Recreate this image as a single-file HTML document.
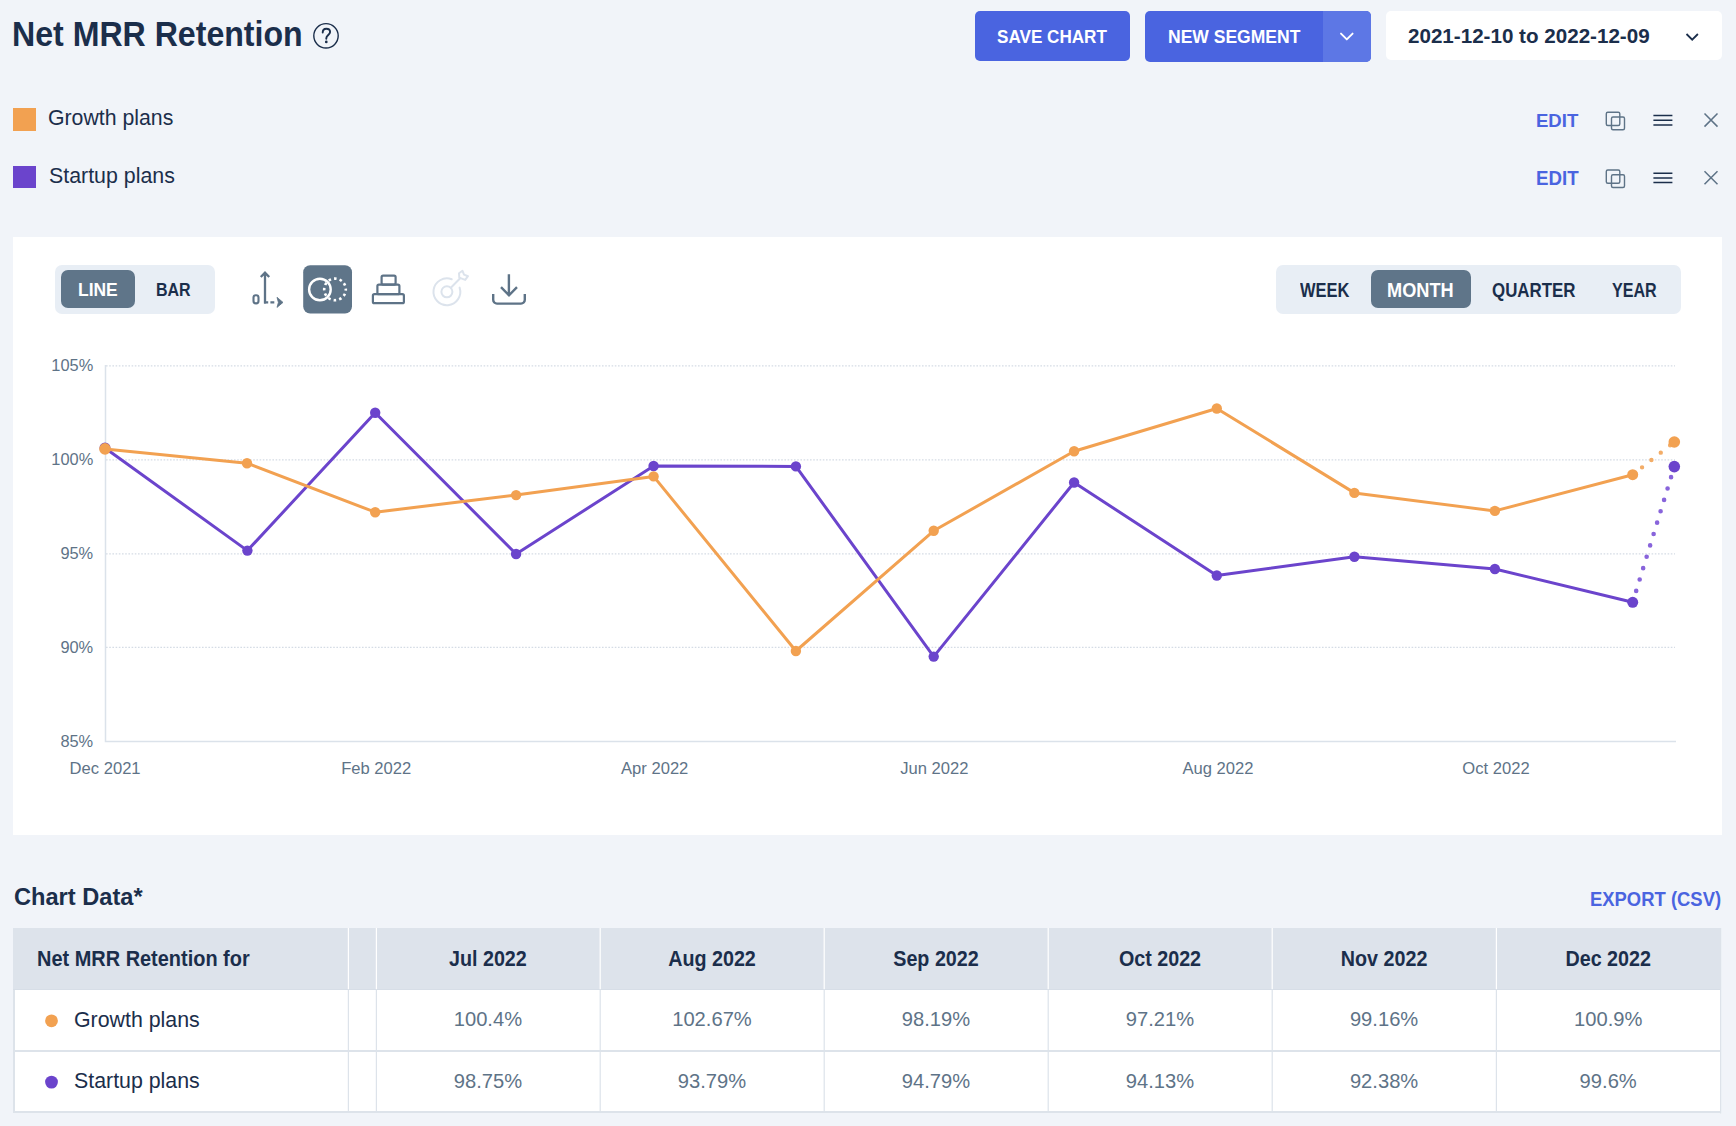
<!DOCTYPE html>
<html><head><meta charset="utf-8">
<style>
*{box-sizing:border-box;margin:0;padding:0}
html,body{width:1736px;height:1126px;overflow:hidden;background:#f1f4f9;font-family:"Liberation Sans",sans-serif;color:#1b2e4b}
.a{position:absolute;white-space:nowrap;line-height:1;transform-origin:0 0}
.b{font-weight:700}
.btn{position:absolute;background:#4a64e0;border-radius:5px}
.wt{color:#fff}
.blue{color:#4a64e0}
.sl{color:#5e7387}
svg{position:absolute;overflow:visible}
</style></head><body>

<!-- Header -->
<div class="a b" style="left:11.92px;top:16.53px;font-size:34.20px;transform:scaleX(0.939)">Net MRR Retention</div>
<svg style="left:0;top:0" width="1736" height="70">
  <circle cx="326" cy="35.8" r="12.2" fill="none" stroke="#1b2e4b" stroke-width="1.4"/>
  <path d="M322.7 32.6C322.7 29.9 324.3 28.7 326.3 28.7C328.5 28.7 330.1 30 330.1 32C330.1 34.7 326.3 35.3 326.3 38.2V38.7" fill="none" stroke="#1b2e4b" stroke-width="1.9" stroke-linecap="round"/>
  <circle cx="326.3" cy="41.9" r="1.35" fill="#1b2e4b"/>
</svg>

<div class="btn" style="left:975px;top:11px;width:155px;height:50px"></div>
<div class="a b wt" style="left:996.88px;top:28.2px;font-size:18.70px;transform:scaleX(0.915)">SAVE CHART</div>

<div class="btn" style="left:1145px;top:11px;width:226px;height:51px;overflow:hidden"><div style="position:absolute;left:177.7px;top:0;width:60px;height:60px;background:#5d77e5"></div></div>
<div class="a b wt" style="left:1167.58px;top:27.05px;font-size:18.99px;transform:scaleX(0.923)">NEW SEGMENT</div>
<svg style="left:0;top:0" width="1736" height="70">
  <polyline points="1341,33.6 1346.8,39.4 1352.6,33.6" fill="none" stroke="#fff" stroke-width="1.9" stroke-linecap="round" stroke-linejoin="round"/>
</svg>

<div style="position:absolute;left:1386px;top:11px;width:336px;height:49px;background:#fff;border-radius:5px"></div>
<div class="a b" style="left:1407.72px;top:25.14px;font-size:21.01px;transform:scaleX(0.981)">2021-12-10 to 2022-12-09</div>
<svg style="left:0;top:0" width="1736" height="70">
  <polyline points="1686.5,34 1692.2,39.7 1697.9,34" fill="none" stroke="#1b2e4b" stroke-width="1.8"/>
</svg>

<!-- Legend rows -->
<div style="position:absolute;left:13px;top:108px;width:23px;height:23px;background:#f2a151"></div>
<div class="a" style="left:48.33px;top:107.45px;font-size:22.03px;transform:scaleX(0.966)">Growth plans</div>
<div style="position:absolute;left:13px;top:166px;width:23px;height:22px;background:#6b44cc"></div>
<div class="a" style="left:48.52px;top:165.40px;font-size:21.88px;transform:scaleX(0.976)">Startup plans</div>

<div class="a b blue" style="left:1535.54px;top:110.7px;font-size:19.28px;transform:scaleX(0.963)">EDIT</div>
<div class="a b blue" style="left:1535.54px;top:168.7px;font-size:19.42px;transform:scaleX(0.963)">EDIT</div>

<svg style="left:0;top:0" width="1736" height="220" id="rowicons">
  <g id="ri1">
    <rect x="1606.3" y="112.3" width="13.5" height="13.2" rx="1.5" fill="none" stroke="#5e7387" stroke-width="1.4"/>
    <rect x="1611.5" y="117" width="13" height="12.8" rx="1.5" fill="none" stroke="#5e7387" stroke-width="1.4"/>
    <path d="M1653.4 115.6H1672.4M1653.4 120.2H1672.4M1653.4 124.9H1672.4" stroke="#1b2e4b" stroke-width="1.5"/>
    <path d="M1704.5 113.5L1717.5 126.6M1717.5 113.5L1704.5 126.6" stroke="#5e7387" stroke-width="1.5"/>
  </g>
  <use href="#ri1" y="57.7"/>
</svg>

<!-- Chart panel -->
<div style="position:absolute;left:13px;top:237px;width:1709px;height:598px;background:#fff"></div>

<!-- LINE/BAR toggle -->
<div style="position:absolute;left:55.3px;top:265.3px;width:159.4px;height:48.4px;background:#e8eef5;border-radius:7px"></div>
<div style="position:absolute;left:61.2px;top:270.1px;width:73.6px;height:37.7px;background:#5f7589;border-radius:7px"></div>
<div class="a b wt" style="left:77.90px;top:279.72px;font-size:19.28px;transform:scaleX(0.905)">LINE</div>
<div class="a b" style="left:156.47px;top:279.72px;font-size:19.28px;transform:scaleX(0.830)">BAR</div>

<!-- tool icons -->
<svg style="left:0;top:0" width="1736" height="340" fill="none" stroke-linecap="round" stroke-linejoin="round">
  <!-- axis icon -->
  <g stroke="#5e7387" stroke-width="2.3" stroke-linecap="butt" stroke-linejoin="miter">
    <path d="M265 303.5V272.6M260.8 277L265 272.6L269.2 277"/>
    <path d="M264 302.3H268.2M270.4 302.3H274.3"/>
    <path d="M277 297.3L283 302.4L277 307.4L278.4 302.4Z" fill="#5e7387" stroke-width="0.8"/>
    <rect x="253.5" y="295.2" width="5" height="8.2" rx="2.3" stroke-width="2.1"/>
  </g>
  <!-- active circles icon -->
  <rect x="303.2" y="265.2" width="48.8" height="48.4" rx="7" fill="#5f7589" stroke="none"/>
  <circle cx="335" cy="289.4" r="10.8" stroke="#fff" stroke-width="2.6" stroke-linecap="butt" stroke-dasharray="2.6 3.055" stroke-dashoffset="1.3"/>
  <circle cx="319.9" cy="289.5" r="10.8" stroke="#fff" stroke-width="2.4"/>
  <!-- stack icon -->
  <g stroke="#5e7387" stroke-width="2.2">
    <rect x="381.6" y="275.6" width="14" height="9" rx="1.5"/>
    <rect x="377.4" y="284.6" width="22" height="9.6" rx="1.5"/>
    <rect x="372.9" y="294.2" width="31" height="9" rx="1.5"/>
  </g>
  <!-- target icon (disabled) -->
  <g stroke="#dce3ec" stroke-width="2">
    <path d="M451.7 279.3A13.4 13.4 0 1 0 459.6 287.6"/>
    <circle cx="446.9" cy="291.8" r="5.5"/>
    <path d="M450.8 287.8L460.2 278.2"/>
    <path d="M459.3 277.6L459 273.3L462.5 270.8L464 274.6L468 276.2L465.2 279.9Z"/>
  </g>
  <!-- download icon -->
  <g stroke="#5e7387" stroke-width="2.4" stroke-linecap="butt" stroke-linejoin="miter">
    <path d="M508.9 274.2V296M501 287.2L509 295.4L517 287.2"/>
    <path d="M493.2 294V299.8A3.8 3.8 0 0 0 497 303.6H521A3.8 3.8 0 0 0 524.8 299.8V294"/>
  </g>
</svg>

<!-- WEEK/MONTH toggle -->
<div style="position:absolute;left:1275.9px;top:265.1px;width:405px;height:48.5px;background:#e8eef5;border-radius:7px"></div>
<div style="position:absolute;left:1371px;top:270px;width:99.6px;height:37.6px;background:#5f7589;border-radius:7px"></div>
<div class="a b" style="left:1300.30px;top:280.5px;font-size:19.57px;transform:scaleX(0.841)">WEEK</div>
<div class="a b wt" style="left:1387.37px;top:280.5px;font-size:19.57px;transform:scaleX(0.929)">MONTH</div>
<div class="a b" style="left:1491.64px;top:280.5px;font-size:19.57px;transform:scaleX(0.863)">QUARTER</div>
<div class="a b" style="left:1612.38px;top:280.5px;font-size:19.57px;transform:scaleX(0.823)">YEAR</div>

<!-- chart -->
<svg style="left:0;top:0" width="1736" height="840" fill="none">
  <g stroke="#d5dce5" stroke-width="1.2" stroke-dasharray="1.6 1.6">
    <path d="M106 365.8H1675M106 459.8H1675M106 553.8H1675M106 647.4H1675"/>
  </g>
  <path d="M105.5 365V741.4H1676" stroke="#dbe2ea" stroke-width="1.5"/>
  <g font-family="Liberation Sans" font-size="16" fill="#5e7387" stroke="none">
    <g text-anchor="end" lengthAdjust="spacingAndGlyphs">
      <text x="93.2" y="371.1" textLength="41.9" lengthAdjust="spacingAndGlyphs">105%</text>
      <text x="93.2" y="465.1" textLength="41.9" lengthAdjust="spacingAndGlyphs">100%</text>
      <text x="93.2" y="558.9" textLength="32.8" lengthAdjust="spacingAndGlyphs">95%</text>
      <text x="93.2" y="652.6" textLength="32.8" lengthAdjust="spacingAndGlyphs">90%</text>
      <text x="93.2" y="746.7" textLength="32.8" lengthAdjust="spacingAndGlyphs">85%</text>
    </g>
    <g text-anchor="middle">
      <text x="105.1" y="774.1" textLength="71.0" lengthAdjust="spacingAndGlyphs">Dec 2021</text>
      <text x="376.2" y="774.1" textLength="70.1" lengthAdjust="spacingAndGlyphs">Feb 2022</text>
      <text x="654.7" y="774.1" textLength="67.3" lengthAdjust="spacingAndGlyphs">Apr 2022</text>
      <text x="934.3" y="774.1" textLength="68.2" lengthAdjust="spacingAndGlyphs">Jun 2022</text>
      <text x="1217.9" y="774.1" textLength="71.0" lengthAdjust="spacingAndGlyphs">Aug 2022</text>
      <text x="1496" y="774.1" textLength="67.3" lengthAdjust="spacingAndGlyphs">Oct 2022</text>
    </g>
  </g>
  <!-- purple series -->
  <g stroke="#6b44cc" stroke-width="3" stroke-linejoin="round" stroke-linecap="round">
    <polyline points="105,448 247.4,550.6 375.2,412.8 516.1,554 653.6,466 795.9,466.4 933.7,656.6 1074.1,482.5 1216.8,575.5 1354.4,556.8 1494.9,569 1632.7,602.3"/>
    <path d="M1632.7 602.3L1674.3 466.6" stroke="#8864db" stroke-width="4.6" stroke-dasharray="0 11.9"/>
  </g>
  <g fill="#6b44cc">
    <circle cx="105" cy="448" r="5.5"/><circle cx="247.4" cy="550.6" r="5.2"/><circle cx="375.2" cy="412.8" r="5.2"/>
    <circle cx="516.1" cy="554" r="5.2"/><circle cx="653.6" cy="466" r="5.2"/><circle cx="795.9" cy="466.4" r="5.2"/>
    <circle cx="933.7" cy="656.6" r="5.2"/><circle cx="1074.1" cy="482.5" r="5.2"/><circle cx="1216.8" cy="575.5" r="5.2"/>
    <circle cx="1354.4" cy="556.8" r="5.2"/><circle cx="1494.9" cy="569" r="5.2"/><circle cx="1632.7" cy="602.3" r="5.5"/>
    <circle cx="1674.3" cy="466.6" r="5.8"/>
  </g>
  <!-- orange series -->
  <g stroke="#f2a151" stroke-width="3" stroke-linejoin="round" stroke-linecap="round">
    <polyline points="105,448.9 247,463.2 375.2,512.2 516.1,495.1 653.6,476.4 795.9,651 933.7,530.8 1074.1,451.3 1216.8,408.5 1354.4,492.9 1494.9,510.9 1632.7,474.7"/>
    <path d="M1632.7 474.7L1674.3 442" stroke="#f3ad68" stroke-width="4.4" stroke-dasharray="0 11.9"/>
  </g>
  <g fill="#f2a151">
    <circle cx="105" cy="448.9" r="5.8"/><circle cx="247" cy="463.2" r="5.2"/><circle cx="375.2" cy="512.2" r="5.2"/>
    <circle cx="516.1" cy="495.1" r="5.2"/><circle cx="653.6" cy="476.4" r="5.2"/><circle cx="795.9" cy="651" r="5.2"/>
    <circle cx="933.7" cy="530.8" r="5.2"/><circle cx="1074.1" cy="451.3" r="5.2"/><circle cx="1216.8" cy="408.5" r="5.2"/>
    <circle cx="1354.4" cy="492.9" r="5.2"/><circle cx="1494.9" cy="510.9" r="5.2"/><circle cx="1632.7" cy="474.7" r="5.5"/>
    <circle cx="1674.3" cy="442" r="5.8"/>
  </g>
</svg>

<!-- Chart Data table -->
<div class="a b" style="left:13.84px;top:885.0px;font-size:24.64px;transform:scaleX(0.959)">Chart Data*</div>
<div class="a b blue" style="left:1590.0px;top:890.0px;font-size:19.70px;transform:scaleX(0.936)">EXPORT (CSV)</div>

<div style="position:absolute;left:13px;top:989px;width:1708px;height:123.5px;background:#fff;border-left:2px solid #dde3ea;border-bottom:2px solid #dde3ea"></div>
<div style="position:absolute;left:13px;top:928px;width:1707px;height:62px;background:#dde3eb;border-bottom:1px solid #d7dee7"></div>
<div style="position:absolute;left:13px;top:1050px;width:1707px;height:2px;background:#dde3ea"></div>
<svg style="left:0;top:0" width="1736" height="1126">
  <g stroke="#fff" stroke-width="1.2">
    <path d="M348.4 928V989M376.4 928V989M600.2 928V989M824.2 928V989M1048.2 928V989M1272.2 928V989M1496.4 928V989"/>
  </g>
  <g stroke="#dde3ea" stroke-width="1.2">
    <path d="M348.4 989V1112M376.4 989V1112M600.2 989V1112M824.2 989V1112M1048.2 989V1112M1272.2 989V1112M1496.4 989V1112M1720.6 928V1113.5"/>
  </g>
  <circle cx="51.5" cy="1020.8" r="6.4" fill="#f2a151"/>
  <circle cx="51.5" cy="1082.1" r="6.4" fill="#6b44cc"/>
</svg>
<div class="a b" style="left:37.23px;top:947.80px;font-size:21.90px;transform:scaleX(0.911)">Net MRR Retention for</div>
<div class="a" style="left:73.92px;top:1008.82px;font-size:21.74px;transform:scaleX(0.982)">Growth plans</div>
<div class="a" style="left:73.92px;top:1069.82px;font-size:21.74px;transform:scaleX(0.982)">Startup plans</div>

<div class="a b" style="left:376.4px;width:223.8px;text-align:center;top:948.34px;font-size:21.60px;transform:scaleX(0.913);transform-origin:50% 0">Jul 2022</div>
<div class="a b" style="left:600.2px;width:224px;text-align:center;top:948.34px;font-size:21.60px;transform:scaleX(0.913);transform-origin:50% 0">Aug 2022</div>
<div class="a b" style="left:824.2px;width:224px;text-align:center;top:948.34px;font-size:21.60px;transform:scaleX(0.913);transform-origin:50% 0">Sep 2022</div>
<div class="a b" style="left:1048.2px;width:224px;text-align:center;top:948.34px;font-size:21.60px;transform:scaleX(0.913);transform-origin:50% 0">Oct 2022</div>
<div class="a b" style="left:1272.2px;width:224.2px;text-align:center;top:948.34px;font-size:21.60px;transform:scaleX(0.913);transform-origin:50% 0">Nov 2022</div>
<div class="a b" style="left:1496.4px;width:224.4px;text-align:center;top:948.34px;font-size:21.60px;transform:scaleX(0.913);transform-origin:50% 0">Dec 2022</div>

<div class="a sl" style="left:376.4px;width:223.8px;text-align:center;top:1009.03px;font-size:20.90px;transform:scaleX(0.965);transform-origin:50% 0">100.4%</div>
<div class="a sl" style="left:600.2px;width:224px;text-align:center;top:1009.03px;font-size:20.90px;transform:scaleX(0.965);transform-origin:50% 0">102.67%</div>
<div class="a sl" style="left:824.2px;width:224px;text-align:center;top:1009.03px;font-size:20.90px;transform:scaleX(0.965);transform-origin:50% 0">98.19%</div>
<div class="a sl" style="left:1048.2px;width:224px;text-align:center;top:1009.03px;font-size:20.90px;transform:scaleX(0.965);transform-origin:50% 0">97.21%</div>
<div class="a sl" style="left:1272.2px;width:224.2px;text-align:center;top:1009.03px;font-size:20.90px;transform:scaleX(0.965);transform-origin:50% 0">99.16%</div>
<div class="a sl" style="left:1496.4px;width:224.4px;text-align:center;top:1009.03px;font-size:20.90px;transform:scaleX(0.965);transform-origin:50% 0">100.9%</div>

<div class="a sl" style="left:376.4px;width:223.8px;text-align:center;top:1070.83px;font-size:20.90px;transform:scaleX(0.965);transform-origin:50% 0">98.75%</div>
<div class="a sl" style="left:600.2px;width:224px;text-align:center;top:1070.83px;font-size:20.90px;transform:scaleX(0.965);transform-origin:50% 0">93.79%</div>
<div class="a sl" style="left:824.2px;width:224px;text-align:center;top:1070.83px;font-size:20.90px;transform:scaleX(0.965);transform-origin:50% 0">94.79%</div>
<div class="a sl" style="left:1048.2px;width:224px;text-align:center;top:1070.83px;font-size:20.90px;transform:scaleX(0.965);transform-origin:50% 0">94.13%</div>
<div class="a sl" style="left:1272.2px;width:224.2px;text-align:center;top:1070.83px;font-size:20.90px;transform:scaleX(0.965);transform-origin:50% 0">92.38%</div>
<div class="a sl" style="left:1496.4px;width:224.4px;text-align:center;top:1070.83px;font-size:20.90px;transform:scaleX(0.965);transform-origin:50% 0">99.6%</div>

</body></html>
